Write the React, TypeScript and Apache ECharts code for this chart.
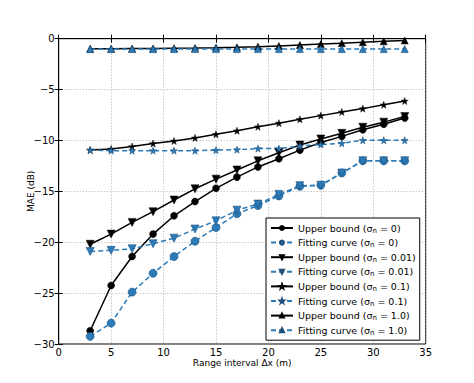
import React, { useEffect, useRef } from "react";
import * as echarts from "echarts";

const xValues = [3, 5, 7, 9, 11, 13, 15, 17, 19, 21, 23, 25, 27, 29, 31, 33];

const upper0 = [-28.7, -24.25, -21.4, -19.2, -17.4, -16.0, -14.7, -13.6, -12.6, -11.8, -10.95, -10.2, -9.6, -8.95, -8.4, -7.8];
const fit0 = [-29.25, -27.95, -24.9, -23.05, -21.4, -19.9, -18.55, -17.2, -16.4, -15.45, -14.5, -14.4, -13.2, -12.0, -12.0, -12.0];
const upper001 = [-20.2, -19.2, -18.05, -17.0, -15.85, -14.75, -13.8, -12.9, -12.0, -11.2, -10.45, -9.85, -9.3, -8.7, -8.2, -7.65];
const fit001 = [-20.9, -20.8, -20.65, -20.15, -19.6, -18.7, -17.9, -16.85, -16.25, -15.3, -14.45, -14.4, -13.2, -12.0, -12.0, -12.0];
const upper01 = [-10.93, -10.85, -10.6, -10.3, -10.05, -9.75, -9.4, -9.05, -8.65, -8.3, -7.92, -7.56, -7.2, -6.87, -6.5, -6.12];
const fit01 = [-10.95, -11.0, -11.0, -11.0, -11.0, -11.0, -10.95, -10.9, -10.8, -10.8, -10.55, -10.4, -10.28, -9.98, -9.98, -9.98];
const upper1 = [-0.98, -0.98, -0.97, -0.96, -0.94, -0.92, -0.89, -0.85, -0.79, -0.71, -0.62, -0.53, -0.44, -0.35, -0.26, -0.17];
const fit1 = [-1.02, -1.02, -1.02, -1.02, -1.02, -1.02, -1.02, -1.02, -1.02, -1.02, -1.02, -1.02, -1.02, -1.02, -1.02, -1.02];

const sigmaLabels = ["0", "0.01", "0.1", "1.0"];
const xTicks = { min: 0, max: 35, interval: 5 };
const yTicks = { min: -30, max: 0, interval: 5 };

const STAR =
  "path://M50,0 L61,35 L98,35 L68,57 L79,91 L50,70 L21,91 L32,57 L2,35 L39,35 Z";

const FONT = "DejaVu Sans";
const BLUE = "#2b7bb9";
const BLUE_EDGE = "#1d4f7a";

const minus = (v: number) => (v < 0 ? "\u2212" + Math.abs(v) : String(v));

export default function App() {
  const ref = useRef<HTMLDivElement>(null);
  useEffect(() => {
    if (!ref.current) return;
    const chart = echarts.init(ref.current, undefined, { renderer: "svg" });
    const pair = (ys: number[]) => xValues.map((x, i) => [x, ys[i]]);

    const upperSeries = [upper0, upper001, upper01, upper1];
    const fitSeries = [fit0, fit001, fit01, fit1];
    const symbols: any[] = [
      { s: "circle", r: 0, ub: 7, fit: 8 },
      { s: "triangle", r: 180, ub: 8, fit: 8 },
      { s: STAR, r: 0, ub: 7, fit: 7 },
      { s: "triangle", r: 0, ub: 7, fit: 7 },
    ];

    const series: any[] = [];
    sigmaLabels.forEach((sg, k) => {
      series.push({
        name: `Upper bound (σn = ${sg})`,
        type: "line",
        data: pair(upperSeries[k]),
        symbol: symbols[k].s,
        symbolRotate: symbols[k].r,
        symbolSize: symbols[k].ub,
        showAllSymbol: true,
        lineStyle: { color: "#000", width: 1.5 },
        itemStyle: { color: "#000", borderColor: "#000", borderWidth: 0.5 },
      });
      series.push({
        name: `Fitting curve (σn = ${sg})`,
        type: "line",
        data: pair(fitSeries[k]),
        symbol: symbols[k].s,
        symbolRotate: symbols[k].r,
        symbolSize: symbols[k].fit,
        showAllSymbol: true,
        lineStyle: { color: BLUE, width: 1.5, type: [5, 3] },
        itemStyle: { color: BLUE, borderColor: BLUE_EDGE, borderWidth: 0.6 },
      });
    });

    const legendFormatter = (name: string) => {
      const m = name.match(/^(.*)\(σn = (.*)\)$/);
      if (!m) return name;
      return `{a|${m[1]}(σ}{s|n}{a| = ${m[2]})}`;
    };

    chart.setOption({
      animation: false,
      backgroundColor: "#fff",
      grid: {
        left: 58.7,
        right: 48.3,
        top: 38.7,
        bottom: 39,
        show: true,
        borderColor: "#000",
        borderWidth: 1,
      },
      legend: {
        orient: "vertical",
        left: 266,
        top: 218,
        padding: [4, 4, 4, 4],
        itemGap: 2.6,
        itemWidth: 22,
        itemHeight: 5,
        backgroundColor: "#fff",
        borderColor: "#000",
        borderWidth: 1,
        borderRadius: 0,
        formatter: legendFormatter,
        textStyle: {
          fontFamily: FONT,
          color: "#000",
          rich: {
            a: { fontFamily: FONT, fontSize: 9.5, color: "#000", lineHeight: 12 },
            s: { fontFamily: FONT, fontSize: 7, color: "#000", lineHeight: 12, verticalAlign: "bottom", padding: [5, 0, 0, 0] },
          },
        },
        data: series.map((s) => s.name),
      },
      xAxis: [
        {
          type: "value",
          min: xTicks.min,
          max: xTicks.max,
          interval: xTicks.interval,
          name: "Range interval Δx (m)",
          nameLocation: "middle",
          nameGap: 14,
          nameMoveOverlap: false,
          nameTextStyle: { fontFamily: FONT, fontSize: 9, color: "#000" },
          axisLine: { show: true, lineStyle: { color: "#000", width: 1 } },
          axisTick: { show: true, inside: true, length: 4, lineStyle: { color: "#000" } },
          axisLabel: { fontFamily: FONT, fontSize: 10, color: "#000", margin: 3, formatter: minus },
          splitLine: { show: true, lineStyle: { color: "#9a9a9a", type: [1, 2], width: 0.8 } },
        },
        {
          type: "value",
          position: "top",
          min: xTicks.min,
          max: xTicks.max,
          interval: xTicks.interval,
          axisLine: { show: true, lineStyle: { color: "#000", width: 1 } },
          axisTick: { show: true, inside: true, length: 4, lineStyle: { color: "#000" } },
          axisLabel: { show: false },
          splitLine: { show: false },
        },
      ],
      yAxis: [
        {
          type: "value",
          min: yTicks.min,
          max: yTicks.max,
          interval: yTicks.interval,
          name: "MAE (dB)",
          nameLocation: "middle",
          nameGap: 23,
          nameMoveOverlap: false,
          nameTextStyle: { fontFamily: FONT, fontSize: 9, color: "#000" },
          axisLine: { show: true, lineStyle: { color: "#000", width: 1 } },
          axisTick: { show: true, inside: true, length: 4, lineStyle: { color: "#000" } },
          axisLabel: { fontFamily: FONT, fontSize: 10, color: "#000", margin: 4, formatter: minus },
          splitLine: { show: true, lineStyle: { color: "#9a9a9a", type: [1, 2], width: 0.8 } },
        },
        {
          type: "value",
          position: "right",
          min: yTicks.min,
          max: yTicks.max,
          interval: yTicks.interval,
          axisLine: { show: true, lineStyle: { color: "#000", width: 1 } },
          axisTick: { show: true, inside: true, length: 4, lineStyle: { color: "#000" } },
          axisLabel: { show: false },
          splitLine: { show: false },
        },
      ],
      series,
    });
    return () => chart.dispose();
  }, []);
  return (
    <div
      ref={ref}
      style={{ position: "absolute", left: 0, top: 0, width: 474, height: 383, background: "#fff" }}
    />
  );
}
